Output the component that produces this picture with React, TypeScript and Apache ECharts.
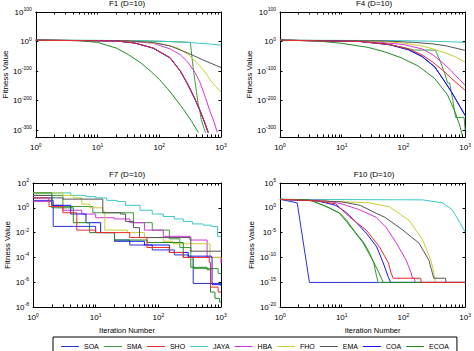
import React, { useEffect, useRef } from 'react';
import * as echarts from 'echarts';

// ---------- labels ----------
const NAMES = ['SOA', 'SMA', 'SHO', 'JAYA', 'HBA', 'FHO', 'EMA', 'COA', 'ECOA'];
const COLORS = ['#2f2fd8', '#3c9c3c', '#ee2a2a', '#3cc8c8', '#d633d6', '#cccc33', '#555555', '#1414ff', '#228b22'];
const TITLES = ['F1 (D=10)', 'F4 (D=10)', 'F7 (D=10)', 'F10 (D=10)'];
const X_NAME = 'Iteration Number';
const Y_NAME = 'Fitness Value';

// x: iteration exponents shown as labels (10^0 .. 10^3)
const X_LABEL_EXP = [0, 1, 2, 3];
// y: exponent labels per panel, and the exponent range of each panel
const Y_LABEL_EXP = [
  [100, 0, -100, -200, -300],
  [100, 0, -100, -200, -300],
  [2, 0, -2, -4, -6, -8],
  [5, 0, -5, -10, -15, -20],
];
const Y_RANGE = [
  [-323.3, 100],
  [-323.3, 100],
  [-8, 2],
  [-20, 5],
];

// ---------- data: [iteration, log10(fitness)] ----------
const F1: Record<string, number[][]> = {
  SOA: [[1, 4.5], [20, 2], [40, -5], [80, -23], [150, -56], [220, -101], [290, -146], [370, -191], [460, -236], [540, -273], [615, -309]],
  SMA: [[1, 4.5], [30, 3], [100, 1], [200, -1], [318, -3], [330, -30], [345, -70], [360, -100], [400, -170], [430, -215], [445, -225], [480, -265], [560, -309]],
  SHO: [[1, 4.5], [20, 2], [40, -5], [80, -22], [150, -55], [220, -100], [290, -145], [370, -190], [460, -235], [540, -272], [620, -308]],
  JAYA: [[1, 4.5], [10, 4], [30, 3], [100, 1], [200, -1], [400, -5], [700, -9], [1000, -12]],
  HBA: [[1, 4.5], [30, 2], [80, -6], [150, -25], [220, -45], [290, -70], [380, -105], [460, -140], [560, -190], [660, -235], [780, -275], [870, -308]],
  FHO: [[1, 4.5], [30, 2], [60, -2], [120, -10], [200, -22], [300, -45], [414, -73], [550, -103], [667, -130], [820, -152], [1000, -172]],
  EMA: [[1, 4.5], [30, 2.5], [80, -3], [150, -15], [290, -39], [520, -63], [1000, -88]],
  COA: [[1, 4.5], [20, 2], [40, -5], [80, -22], [150, -55], [220, -100], [290, -145], [370, -190], [460, -235], [540, -272], [625, -308]],
  ECOA: [[1, 4.5], [5, 3], [10, -3], [20, -22], [32, -45], [50, -72], [74, -102], [100, -128], [137, -160], [190, -198], [247, -230], [330, -268], [430, -308]],
};

const F4: Record<string, number[][]> = {
  SOA: [[1, 4.5], [20, 0], [60, -10], [120, -27], [200, -50], [320, -85], [450, -130], [600, -170], [800, -215], [1000, -250]],
  SMA: [[1, 4.5], [20, 0], [50, -8], [100, -20], [150, -29], [330, -29], [400, -70], [470, -110], [520, -140], [560, -140], [620, -190], [700, -257], [960, -257], [1000, -300]],
  SHO: [[1, 4.5], [20, 0], [60, -10], [120, -25], [200, -45], [300, -70], [450, -100], [600, -125], [800, -148], [1000, -165]],
  JAYA: [[1, 4.5], [100, 3], [300, 1], [600, -1], [1000, -3]],
  HBA: [[1, 4.5], [30, 0], [100, -10], [200, -25], [300, -45], [450, -75], [600, -100], [800, -128], [1000, -148]],
  FHO: [[1, 4.5], [40, 1], [100, -5], [200, -15], [300, -25], [500, -40], [700, -52], [1000, -70]],
  EMA: [[1, 4.5], [50, 2], [150, -3], [300, -8], [500, -15], [1000, -30]],
  COA: [[1, 4.5], [20, 0], [60, -11], [120, -28], [200, -51], [320, -86], [450, -131], [600, -171], [800, -216], [1000, -251]],
  ECOA: [[1, 4.5], [3, 3], [5, 0], [10, -6], [27, -20], [50, -35], [92, -55], [171, -82], [320, -125], [516, -180], [692, -240], [832, -290], [900, -318]],
};

const F7: Record<string, number[][]> = {
  SOA: [[1, 0.6], [2.1, -1.5], [4.4, -1.5], [10, -2.0], [20, -2.6], [35, -3.0], [80, -3.4], [180, -3.8], [300, -4.0], [360, -6.1], [1000, -6.1]],
  SMA: [[1, 1.0], [3, 0.1], [9, -0.4], [35, -0.4], [40, -1.2], [80, -1.8], [150, -2.5], [220, -3.2], [330, -4.0], [360, -4.9], [900, -5.3], [1000, -5.3]],
  SHO: [[1, 0.8], [1.8, 0.1], [3, -0.4], [5, -1.8], [10, -2.0], [35, -2.4], [66, -3.2], [150, -3.6], [250, -4.0], [650, -4.4], [680, -6.4], [900, -6.8], [1000, -6.8]],
  JAYA: [[1, 1.2], [4, 1.0], [7, 0.9], [10, 0.8], [15, 0.6], [22, 0.5], [30, 0.2], [51, -0.2], [80, -0.5], [120, -0.7], [180, -0.9], [250, -1.1], [350, -1.3], [520, -1.4], [700, -1.5], [880, -2.3], [1000, -2.3]],
  HBA: [[1, 0.5], [2, 0.2], [3, -0.2], [6, -0.5], [10, -0.8], [20, -0.9], [35, -1.2], [60, -1.8], [120, -2.3], [320, -2.6], [600, -4.0], [1000, -4.5]],
  FHO: [[1, 1.2], [3, 1.0], [4.4, 0.8], [6, 0.3], [8, 0.0], [13, -0.3], [14, -1.8], [32, -2.0], [60, -2.4], [120, -2.7], [170, -2.9], [650, -2.9], [670, -4.0], [1000, -4.1]],
  EMA: [[1, 1.0], [2, 0.8], [3, 0.7], [12, 0.7], [13, -0.4], [25, -0.5], [30, -1.1], [40, -1.6], [50, -2.4], [320, -2.4], [330, -3.5], [1000, -3.5]],
  COA: [[1, 0.8], [2, 0.2], [4, -0.5], [7, -1.2], [12, -2.0], [20, -2.7], [60, -3.0], [150, -3.6], [300, -3.9], [700, -4.0], [720, -6.2], [1000, -6.3]],
  ECOA: [[1, 1.2], [2, 0.0], [4.4, -1.2], [8, -2.0], [20, -2.6], [66, -2.8], [250, -4.0], [330, -4.8], [600, -5.0], [680, -6.8], [800, -7.3], [950, -7.6], [1000, -7.6]],
};

const F10: Record<string, number[][]> = {
  SOA: [[1, 1.7], [1.9, 1.0], [3.0, -15.05], [1000, -15.05]],
  SMA: [[1, 1.7], [3, 1.6], [5.8, 0.2], [9.4, -1.1], [12, -2.5], [15.7, -4.5], [23, -7.1], [28, -9], [33, -11.1], [37, -14], [39, -15.05], [1000, -15.05]],
  SHO: [[1, 1.7], [4, 1.4], [8, 0.8], [13.6, -1.9], [25, -4.5], [41, -7.9], [57, -11.1], [63, -13.1], [68, -14.2], [190, -14.2], [195, -15.05], [1000, -15.05]],
  JAYA: [[1, 1.7], [205, 1.6], [430, 1.0], [620, -0.4], [830, -3.1], [1000, -4.9]],
  HBA: [[1, 1.7], [5, 1.5], [10, 0.8], [19.5, -0.4], [36, -1.9], [52, -3.9], [77, -7.1], [110, -10.5], [133, -13.1], [140, -14.2], [150, -14.2], [155, -15.05], [1000, -15.05]],
  FHO: [[1, 1.7], [28, 1.0], [59, 0.2], [123, -2.5], [205, -6.5], [277, -10.5], [310, -13], [330, -15.05], [1000, -15.05]],
  EMA: [[1, 1.7], [10, 1.2], [20, 0.5], [36, -1.1], [50, -1.9], [98, -4.5], [178, -7.1], [257, -10.5], [310, -14.2], [480, -14.2], [490, -15.05], [1000, -15.05]],
  COA: [[1, 1.7], [4, 1.4], [8, 0.5], [12, -1.0], [17.6, -3.1], [25, -5.1], [37, -7.9], [47, -11.1], [57, -14], [62, -15.05], [1000, -15.05]],
  ECOA: [[1, 1.7], [3, 1.6], [5.5, 0.3], [9, -1.0], [12, -2.8], [16, -4.8], [22, -7.0], [30, -10], [38, -12.5], [44, -14.2], [47, -15.05], [1000, -15.05]],
};

const PANELS = [F1, F4, F7, F10];
const STEPPED = [false, false, true, false];

// ---------- layout ----------
const GRIDS = [
  { left: 33, top: 12, width: 188, height: 125 },
  { left: 280, top: 12, width: 188, height: 125 },
  { left: 33, top: 183, width: 188, height: 124 },
  { left: 280, top: 183, width: 188, height: 124 },
];

const FONT = 'Liberation Sans, Arial, Helvetica, sans-serif';

const X_TICKS: number[] = (() => {
  const t: number[] = [];
  for (let d = 0; d < 3; d++) for (let m = 1; m < 10; m++) t.push(Math.log10(m * Math.pow(10, d)));
  t.push(3);
  return t;
})();

const powRich = {
  b: { fontSize: 8, fontFamily: FONT, color: '#000', lineHeight: 11 },
  s: { fontSize: 5, fontFamily: FONT, color: '#000', verticalAlign: 'top', lineHeight: 6 },
};
const powFmt = (v: number) => `{b|10}{s|${Math.round(v)}}`;

export default function App() {
  const ref = useRef<HTMLDivElement>(null);

  useEffect(() => {
    if (!ref.current) return;
    const chart = echarts.init(ref.current, undefined, { renderer: 'svg' });

    const xAxis: any[] = [];
    const yAxis: any[] = [];
    const series: any[] = [];
    const graphic: any[] = [];

    GRIDS.forEach((g, p) => {
      const lineStyle = { color: '#000', width: 1 };
      const xBase = {
        gridIndex: p, type: 'value', min: 0, max: 3,
        axisLine: { show: true, onZero: false, lineStyle },
        axisTick: { show: true, inside: true, length: 2.5, customValues: X_TICKS, lineStyle },
        splitLine: { show: false },
      };
      xAxis.push({
        ...xBase, position: 'bottom',
        axisLabel: { show: true, customValues: X_LABEL_EXP, formatter: powFmt, rich: powRich, margin: 5 },
        name: p >= 2 ? X_NAME : '', nameLocation: 'middle', nameGap: 19,
        nameTextStyle: { fontSize: 7.5, fontFamily: FONT, color: '#000' },
      });
      xAxis.push({ ...xBase, position: 'top', axisLabel: { show: false } });

      const [ymin, ymax] = Y_RANGE[p];
      const yBase = {
        gridIndex: p, type: 'value', min: ymin, max: ymax,
        axisLine: { show: true, onZero: false, lineStyle },
        axisTick: { show: true, inside: true, length: 2.5, customValues: Y_LABEL_EXP[p], lineStyle },
        splitLine: { show: false },
      };
      yAxis.push({
        ...yBase, position: 'left',
        axisLabel: { show: true, customValues: Y_LABEL_EXP[p], formatter: powFmt, rich: powRich, margin: 4 },
        name: Y_NAME, nameLocation: 'middle', nameGap: 15, nameRotate: 90,
        nameTextStyle: { fontSize: 8, fontFamily: FONT, color: '#000' },
      });
      yAxis.push({ ...yBase, position: 'right', axisLabel: { show: false } });

      const panel = PANELS[p];
      NAMES.forEach((name, i) => {
        series.push({
          type: 'line', name, xAxisIndex: p * 2, yAxisIndex: p * 2,
          data: panel[name].map(([it, e]) => [Math.log10(it), e]),
          symbol: 'none', showSymbol: false, step: STEPPED[p] ? 'end' : false,
          lineStyle: { width: 1, color: COLORS[i] }, itemStyle: { color: COLORS[i] },
          z: name === 'SHO' ? 3 : 2,
          silent: true, clip: true,
        });
      });

      graphic.push({
        type: 'text', x: g.left + g.width / 2, y: g.top - 9,
        style: { text: TITLES[p], fontSize: 8, fontFamily: FONT, fill: '#000', textAlign: 'center', textVerticalAlign: 'middle' },
      });
    });

    chart.setOption({
      animation: false,
      backgroundColor: '#fff',
      grid: GRIDS.map((g) => ({ ...g, containLabel: false })),
      xAxis, yAxis, series, graphic,
      legend: {
        data: NAMES, left: 53, top: 337,
        icon: 'rect', itemWidth: 18, itemHeight: 1, itemGap: 5,
        padding: [6, 8, 8, 8],
        borderColor: '#000', borderWidth: 1,
        textStyle: { fontSize: 7, fontFamily: FONT, color: '#000' },
        selectedMode: false,
      },
    });

    return () => chart.dispose();
  }, []);

  return <div ref={ref} style={{ position: 'fixed', left: 0, top: 0, width: 474, height: 351, background: '#fff' }} />;
}
